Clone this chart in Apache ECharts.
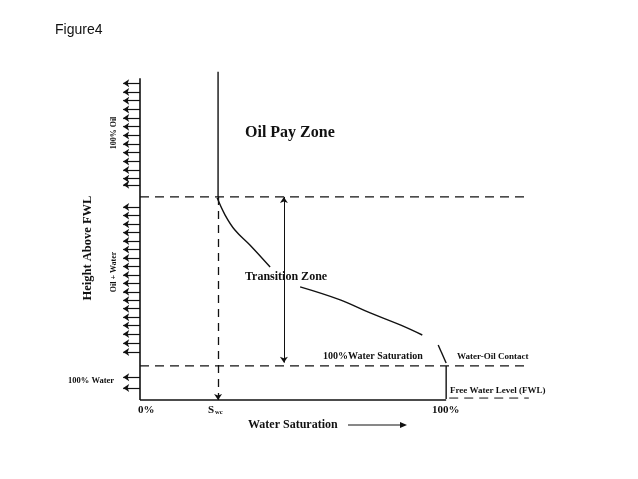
<!DOCTYPE html>
<html>
<head>
<meta charset="utf-8">
<script src="https://cdn.jsdelivr.net/npm/echarts@6/dist/echarts.min.js"></script>
<style>html,body{margin:0;background:#fff}#c{width:638px;height:479px}</style>
</head>
<body>
<div id="c"></div>
<script>
// saturation (%) vs height above FWL (arbitrary units, 0 = FWL)
var swc = 25.5;
var topY = 101;
var transTop = 62.5;
var wocY = 10.5;
var fwlY = 0.6;
var curveA = [[25.2, 62.2], [27.8, 56.9], [31.0, 52.3], [35.9, 47.7], [42.5, 40.9]];
var curveB = [[52.3, 34.8], [65.4, 30.8], [75.2, 26.8], [85.0, 23.1], [92.2, 20.0]];
var curveC = [[97.4, 16.9], [100, 11.4]];
var oilArrows = [97.5, 94.8, 92.1, 89.4, 86.8, 84.1, 81.4, 78.8, 76.1, 73.4, 70.8, 68.1, 66.2];
var mixArrows = [59.4, 56.8, 54.1, 51.5, 48.9, 46.3, 43.7, 41.1, 38.5, 35.9, 33.3, 30.7, 28.1, 25.5, 22.9, 20.3, 17.5, 14.8];
var waterArrows = [7.0, 3.7];

var serif = '"Liberation Serif", "DejaVu Serif", serif';
var chart = echarts.init(document.getElementById('c'));

function seg(pts, dashed, w) {
  return { type: 'line', data: pts, symbol: 'none', silent: true, smooth: pts.length > 2 ? 0.4 : false,
    clip: false, lineStyle: { color: '#111', width: w || 1.4, type: dashed ? [9, 6] : 'solid' }, animation: false };
}
function arrowLines(list) {
  return list.map(function (y) { return { coords: [[-5.5, y], [0, y]] }; });
}

var series = [
  seg([[0, 0], [100, 0]], false, 1.6),
  seg([[0, 0], [0, 99]], false, 1.6),
  seg([[swc, topY], [swc, transTop]]),
  seg([[0, transTop], [127, transTop]], true),
  seg([[0, wocY], [127, wocY]], true),
  seg([[100, 0.3], [100, wocY]]),
  seg([[101, fwlY], [127, fwlY]], true, 1),
  seg(curveA), seg(curveB), seg(curveC),
  { type: 'lines', coordinateSystem: 'cartesian2d', silent: true, animation: false, clip: false,
    symbol: ['arrow', 'none'], symbolSize: 6,
    lineStyle: { color: '#111', width: 1.2, opacity: 1 },
    data: arrowLines(oilArrows.concat(mixArrows, waterArrows)) },
  { type: 'lines', coordinateSystem: 'cartesian2d', silent: true, animation: false, clip: false,
    symbol: ['arrow', 'arrow'], symbolSize: 6,
    lineStyle: { color: '#111', width: 1, opacity: 1 },
    data: [{ coords: [[47, wocY + 1], [47, transTop]] }] },
  { type: 'lines', coordinateSystem: 'cartesian2d', silent: true, animation: false, clip: false,
    symbol: ['none', 'arrow'], symbolSize: 6,
    lineStyle: { color: '#111', width: 1.3, type: [8, 6], opacity: 1 },
    data: [{ coords: [[swc, transTop], [swc, 0]] }] }
];

function txt(x, y, s, size, opt) {
  opt = opt || {};
  return { type: 'text', x: x, y: y, rotation: opt.rot || 0,
    style: { text: s, font: (opt.bold === false ? '' : 'bold ') + size + 'px ' + (opt.family || serif),
      fill: '#111', align: opt.align || 'left', verticalAlign: 'middle' } };
}

chart.setOption({
  backgroundColor: '#fff',
  grid: { left: 140, right: 100, top: 75, bottom: 79 },
  xAxis: { type: 'value', min: 0, max: 130, show: false },
  yAxis: { type: 'value', min: 0, max: 100, show: false },
  series: series,
  graphic: [
    txt(55, 30, 'Figure4', 14, { bold: false, family: 'Arial, "Liberation Sans", sans-serif' }),
    txt(245, 133, 'Oil Pay Zone', 16),
    txt(245, 277, 'Transition Zone', 12),
    txt(323, 356, '100%Water Saturation', 10),
    txt(457, 357, 'Water-Oil Contact', 9),
    txt(450, 391, 'Free Water Level (FWL)', 9),
    txt(138, 410, '0%', 11),
    txt(208, 410, 'S', 11),
    txt(215, 412, 'wc', 6.5),
    txt(432, 410, '100%', 11),
    txt(248, 425, 'Water Saturation', 12),
    { type: 'line', shape: { x1: 348, y1: 425, x2: 400, y2: 425 }, style: { stroke: '#111', lineWidth: 1 } },
    { type: 'polygon', shape: { points: [[400, 422], [407, 425], [400, 428]] }, style: { fill: '#111' } },
    txt(88, 248, 'Height Above FWL', 12.5, { rot: Math.PI / 2, align: 'center' }),
    txt(114, 133, '100% Oil', 8, { rot: Math.PI / 2, align: 'center' }),
    txt(114, 272, 'Oil + Water', 8, { rot: Math.PI / 2, align: 'center' }),
    txt(68, 381, '100% Water', 8.5)
  ]
});
</script>
</body>
</html>
